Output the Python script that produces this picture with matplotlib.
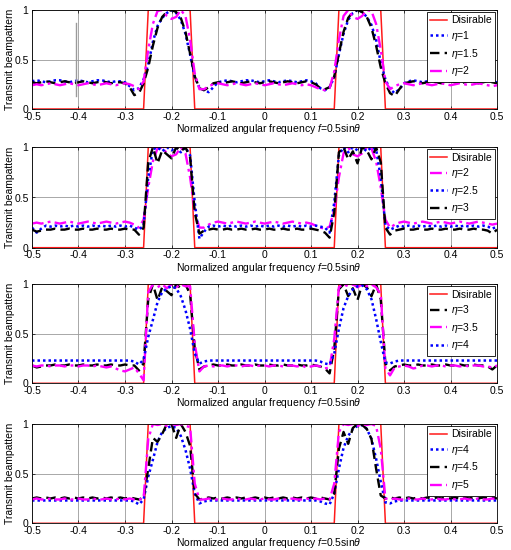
import numpy as np
import matplotlib
matplotlib.use("Agg")
import matplotlib.pyplot as plt

plt.rcParams['font.family'] = ['Liberation Sans', 'DejaVu Sans']
plt.rcParams['mathtext.fontset'] = 'custom'
plt.rcParams['mathtext.it'] = 'Liberation Sans:italic'
plt.rcParams['mathtext.rm'] = 'Liberation Sans'
plt.rcParams['axes.unicode_minus'] = False

# ---------------- data ----------------
freq = np.linspace(-0.5, 0.5, 101)

desired_f = [-0.5, -0.26, -0.25, -0.16, -0.15, 0.15, 0.16, 0.25, 0.26, 0.5]
desired = [0, 0, 1, 1, 0, 0, 1, 1, 0, 0]

eta_1 = [0.28, 0.29, 0.28, 0.27, 0.28, 0.29, 0.29, 0.28, 0.27, 0.28,
         0.29, 0.28, 0.27, 0.28, 0.29, 0.29, 0.28, 0.27, 0.28, 0.28,
         0.27, 0.23, 0.19, 0.21, 0.30, 0.45, 0.68, 0.84, 0.92, 0.97,
         1.00, 0.97, 0.90, 0.76, 0.55, 0.32, 0.22, 0.19, 0.17, 0.22,
         0.27, 0.28, 0.29, 0.28, 0.27, 0.28, 0.29, 0.29, 0.28, 0.27,
         0.28, 0.29, 0.28, 0.27, 0.28, 0.29, 0.28, 0.27, 0.28, 0.29,
         0.28, 0.26, 0.21, 0.19, 0.22, 0.32, 0.55, 0.76, 0.90, 0.97,
         1.00, 0.98, 0.93, 0.85, 0.70, 0.47, 0.30, 0.20, 0.16, 0.20,
         0.26, 0.28, 0.29, 0.28, 0.27, 0.28, 0.29, 0.28, 0.27, 0.28,
         0.29, 0.28, 0.27, 0.28, 0.29, 0.28, 0.27, 0.28, 0.29, 0.28,
         0.27]

eta_1_5 = [0.27, 0.26, 0.27, 0.28, 0.27, 0.26, 0.27, 0.28, 0.27, 0.26,
           0.27, 0.28, 0.27, 0.26, 0.27, 0.28, 0.27, 0.26, 0.27, 0.27,
           0.26, 0.22, 0.14, 0.16, 0.26, 0.42, 0.64, 0.82, 0.93, 0.98,
           1.00, 0.98, 0.92, 0.78, 0.56, 0.33, 0.21, 0.19, 0.22, 0.26,
           0.27, 0.26, 0.27, 0.28, 0.27, 0.26, 0.27, 0.28, 0.27, 0.26,
           0.27, 0.28, 0.27, 0.26, 0.27, 0.28, 0.27, 0.26, 0.27, 0.28,
           0.27, 0.25, 0.21, 0.20, 0.22, 0.33, 0.56, 0.78, 0.92, 0.98,
           1.00, 0.98, 0.93, 0.82, 0.64, 0.42, 0.26, 0.16, 0.13, 0.20,
           0.26, 0.27, 0.28, 0.27, 0.26, 0.27, 0.28, 0.27, 0.26, 0.27,
           0.28, 0.27, 0.26, 0.27, 0.28, 0.27, 0.26, 0.27, 0.28, 0.27,
           0.26]

eta_2 = [0.24, 0.25, 0.24, 0.25, 0.26, 0.25, 0.24, 0.25, 0.26, 0.25,
         0.24, 0.25, 0.26, 0.25, 0.24, 0.25, 0.26, 0.25, 0.24, 0.25,
         0.26, 0.25, 0.23, 0.20, 0.28, 0.60, 0.86, 0.99, 1.00, 0.94,
         0.91, 0.93, 1.00, 0.94, 0.70, 0.36, 0.20, 0.20, 0.23, 0.25,
         0.26, 0.25, 0.24, 0.25, 0.26, 0.25, 0.24, 0.25, 0.26, 0.25,
         0.24, 0.25, 0.26, 0.25, 0.24, 0.25, 0.26, 0.25, 0.24, 0.25,
         0.24, 0.22, 0.20, 0.19, 0.21, 0.38, 0.70, 0.94, 1.00, 0.93,
         0.91, 0.94, 1.00, 0.99, 0.86, 0.60, 0.28, 0.20, 0.23, 0.25,
         0.26, 0.25, 0.24, 0.25, 0.26, 0.25, 0.24, 0.25, 0.26, 0.25,
         0.24, 0.25, 0.26, 0.25, 0.24, 0.25, 0.26, 0.25, 0.24, 0.23,
         0.24]

eta_2_5 = [0.20, 0.15, 0.19, 0.22, 0.21, 0.22, 0.21, 0.22, 0.21, 0.22,
           0.21, 0.22, 0.21, 0.22, 0.21, 0.22, 0.21, 0.22, 0.21, 0.22,
           0.21, 0.22, 0.20, 0.18, 0.22, 0.70, 0.98, 1.00, 0.96, 1.00,
           0.97, 1.00, 0.95, 1.00, 0.92, 0.45, 0.09, 0.16, 0.21, 0.22,
           0.21, 0.22, 0.21, 0.22, 0.21, 0.22, 0.21, 0.22, 0.21, 0.22,
           0.21, 0.22, 0.21, 0.22, 0.21, 0.22, 0.21, 0.22, 0.21, 0.22,
           0.21, 0.22, 0.21, 0.20, 0.15, 0.45, 0.92, 1.00, 0.95, 1.00,
           0.97, 1.00, 0.96, 1.00, 0.98, 0.70, 0.22, 0.18, 0.20, 0.22,
           0.21, 0.22, 0.21, 0.22, 0.21, 0.22, 0.21, 0.22, 0.21, 0.22,
           0.21, 0.22, 0.21, 0.22, 0.21, 0.22, 0.21, 0.22, 0.21, 0.19,
           0.21]

eta_3 = [0.18, 0.16, 0.17, 0.18, 0.18, 0.19, 0.18, 0.18, 0.19, 0.18,
         0.18, 0.19, 0.18, 0.18, 0.19, 0.18, 0.18, 0.19, 0.18, 0.18,
         0.19, 0.18, 0.18, 0.13, 0.20, 0.85, 1.00, 0.84, 0.97, 0.93,
         0.89, 1.00, 0.96, 1.00, 0.90, 0.35, 0.14, 0.17, 0.18, 0.19,
         0.18, 0.18, 0.19, 0.18, 0.18, 0.19, 0.18, 0.18, 0.19, 0.18,
         0.18, 0.19, 0.18, 0.18, 0.19, 0.18, 0.18, 0.19, 0.18, 0.18,
         0.19, 0.18, 0.17, 0.15, 0.10, 0.35, 0.95, 1.00, 0.88, 0.96,
         0.84, 1.00, 0.97, 0.88, 1.00, 0.85, 0.20, 0.13, 0.17, 0.18,
         0.19, 0.18, 0.18, 0.19, 0.18, 0.18, 0.19, 0.18, 0.18, 0.19,
         0.18, 0.18, 0.19, 0.18, 0.18, 0.19, 0.18, 0.18, 0.17, 0.14,
         0.18]

eta_3_5 = [0.18, 0.17, 0.18, 0.18, 0.17, 0.18, 0.18, 0.17, 0.18, 0.18,
           0.17, 0.18, 0.18, 0.17, 0.18, 0.17, 0.16, 0.17, 0.15, 0.13,
           0.12, 0.14, 0.16, 0.10, 0.03, 0.92, 1.00, 0.97, 1.00, 0.96,
           1.00, 0.97, 1.00, 0.98, 0.98, 0.40, 0.12, 0.17, 0.18, 0.17,
           0.18, 0.18, 0.17, 0.18, 0.18, 0.17, 0.18, 0.18, 0.17, 0.18,
           0.18, 0.17, 0.18, 0.18, 0.17, 0.18, 0.18, 0.17, 0.18, 0.16,
           0.17, 0.18, 0.17, 0.15, 0.16, 0.45, 0.97, 1.00, 0.98, 1.00,
           0.97, 1.00, 0.98, 1.00, 0.97, 0.90, 0.15, 0.08, 0.16, 0.17,
           0.18, 0.17, 0.15, 0.16, 0.18, 0.18, 0.17, 0.18, 0.18, 0.17,
           0.18, 0.18, 0.17, 0.18, 0.17, 0.18, 0.18, 0.17, 0.17, 0.16,
           0.18]

eta_4 = [0.23, 0.23, 0.23, 0.23, 0.23, 0.23, 0.23, 0.23, 0.23, 0.23,
         0.23, 0.23, 0.23, 0.23, 0.23, 0.23, 0.23, 0.23, 0.23, 0.23,
         0.23, 0.23, 0.22, 0.19, 0.24, 0.47, 0.64, 0.82, 0.92, 0.96,
         0.98, 0.96, 0.88, 0.74, 0.55, 0.30, 0.20, 0.22, 0.23, 0.23,
         0.23, 0.23, 0.23, 0.23, 0.23, 0.23, 0.23, 0.23, 0.23, 0.23,
         0.23, 0.23, 0.23, 0.23, 0.23, 0.23, 0.23, 0.23, 0.23, 0.23,
         0.23, 0.23, 0.22, 0.20, 0.19, 0.30, 0.55, 0.76, 0.88, 0.95,
         0.98, 0.99, 0.95, 0.85, 0.65, 0.42, 0.21, 0.20, 0.22, 0.23,
         0.23, 0.23, 0.23, 0.23, 0.23, 0.23, 0.23, 0.23, 0.23, 0.23,
         0.23, 0.23, 0.23, 0.23, 0.23, 0.23, 0.23, 0.23, 0.23, 0.23,
         0.23]

eta_4_5 = [0.25, 0.26, 0.25, 0.26, 0.25, 0.26, 0.25, 0.26, 0.25, 0.26,
           0.25, 0.26, 0.25, 0.26, 0.25, 0.26, 0.25, 0.26, 0.25, 0.26,
           0.25, 0.26, 0.25, 0.24, 0.26, 0.55, 0.86, 0.82, 0.90, 1.00,
           1.00, 0.86, 1.00, 0.92, 0.78, 0.30, 0.24, 0.25, 0.26, 0.25,
           0.26, 0.25, 0.26, 0.25, 0.26, 0.25, 0.26, 0.25, 0.26, 0.25,
           0.26, 0.25, 0.26, 0.25, 0.26, 0.25, 0.26, 0.25, 0.26, 0.25,
           0.26, 0.25, 0.26, 0.25, 0.24, 0.30, 0.75, 0.92, 0.80, 0.96,
           1.00, 0.99, 0.95, 0.85, 0.55, 0.28, 0.25, 0.26, 0.25, 0.26,
           0.25, 0.26, 0.25, 0.26, 0.25, 0.26, 0.25, 0.26, 0.25, 0.26,
           0.25, 0.26, 0.25, 0.26, 0.25, 0.26, 0.25, 0.26, 0.25, 0.26,
           0.25]

eta_5 = [0.24, 0.25, 0.24, 0.24, 0.25, 0.24, 0.24, 0.25, 0.24, 0.24,
         0.25, 0.24, 0.24, 0.25, 0.24, 0.24, 0.25, 0.24, 0.24, 0.25,
         0.24, 0.25, 0.24, 0.24, 0.25, 0.85, 1.00, 0.99, 1.00, 0.98,
         1.00, 0.99, 1.00, 0.98, 0.97, 0.40, 0.24, 0.24, 0.25, 0.24,
         0.24, 0.25, 0.24, 0.24, 0.25, 0.24, 0.24, 0.25, 0.24, 0.24,
         0.25, 0.24, 0.24, 0.25, 0.24, 0.24, 0.25, 0.24, 0.24, 0.25,
         0.24, 0.25, 0.24, 0.25, 0.24, 0.40, 0.92, 1.00, 0.99, 1.00,
         0.98, 1.00, 0.99, 1.00, 0.98, 0.75, 0.25, 0.24, 0.25, 0.24,
         0.24, 0.25, 0.24, 0.24, 0.25, 0.24, 0.24, 0.25, 0.24, 0.24,
         0.25, 0.24, 0.24, 0.25, 0.24, 0.24, 0.25, 0.24, 0.24, 0.25,
         0.24]

# stray grey stroke in the first panel
stray_f = [-0.405, -0.405]
stray_y = [0.13, 0.87]

xticks = [-0.5, -0.4, -0.3, -0.2, -0.1, 0, 0.1, 0.2, 0.3, 0.4, 0.5]
xticklabels = ['-0.5', '-0.4', '-0.3', '-0.2', '-0.1', '0', '0.1', '0.2', '0.3', '0.4', '0.5']
yticks = [0, 0.5, 1]
yticklabels = ['0', '0.5', '1']

# ---------------- styles ----------------
RED = dict(color='#ff1a1a', ls='-', lw=1.1)
BLUE = dict(color='#0000ff', ls=(0, (1, 1.2)), lw=1.8)
BLACK = dict(color='black', ls=(0, (4, 2.2)), lw=1.7)
MAG = dict(color='#ff00ff', ls=(0, (5, 1.8, 1.2, 1.8)), lw=1.7)

panels = [
    [(eta_1, r'$\eta$=1', BLUE), (eta_1_5, r'$\eta$=1.5', BLACK), (eta_2, r'$\eta$=2', MAG)],
    [(eta_2, r'$\eta$=2', MAG), (eta_2_5, r'$\eta$=2.5', BLUE), (eta_3, r'$\eta$=3', BLACK)],
    [(eta_3, r'$\eta$=3', BLACK), (eta_3_5, r'$\eta$=3.5', MAG), (eta_4, r'$\eta$=4', BLUE)],
    [(eta_4, r'$\eta$=4', BLUE), (eta_4_5, r'$\eta$=4.5', BLACK), (eta_5, r'$\eta$=5', MAG)],
]

W, H = 511, 550
fig = plt.figure(figsize=(W / 100, H / 100), dpi=100)
px_rows = [(10, 109), (147.3, 247.7), (284.3, 383.3), (424, 523.3)]
left_px, right_px = 32, 497
FS = 7.5

for k, (top, bot) in enumerate(px_rows):
    ax = fig.add_axes([left_px / W, (H - bot) / H, (right_px - left_px) / W, (bot - top) / H])
    ax.set_axisbelow(True)
    ax.grid(True, color='#9a9a9a', lw=0.6, ls='-')
    ax.plot(desired_f, desired, label='Disirable', **RED)
    for vals, lab, st in panels[k]:
        ax.plot(freq, vals, label=lab, **st)
    if k == 0:
        ax.plot(stray_f, stray_y, color='#9a9a9a', lw=1.0)
    ax.set_xlim(-0.5, 0.5)
    ax.set_ylim(0, 1)
    ax.set_xticks(xticks)
    ax.set_xticklabels(xticklabels)
    ax.set_yticks(yticks)
    ax.set_yticklabels(yticklabels)
    ax.tick_params(direction='in', length=2.5, width=0.5, labelsize=FS, top=True, right=True)
    ax.tick_params(axis='x', pad=2)
    ax.tick_params(axis='y', pad=2.5)
    for s in ax.spines.values():
        s.set_linewidth(0.6)
    ax.set_xlabel(r'Normalized angular frequency $f$=0.5sin$\theta$', fontsize=FS)
    ax.xaxis.set_label_coords(0.51, -0.13)
    ax.set_ylabel('Transmit beampattern', fontsize=FS)
    ax.yaxis.set_label_coords(-0.036, 0.5)
    leg = ax.legend(loc='upper right', fontsize=FS, handlelength=1.6, handletextpad=0.4,
                    labelspacing=0.35, borderpad=0.35, borderaxespad=0.15,
                    fancybox=False, framealpha=1, edgecolor='black')
    leg.get_frame().set_linewidth(0.6)

fig.savefig('out.png', dpi=100)
